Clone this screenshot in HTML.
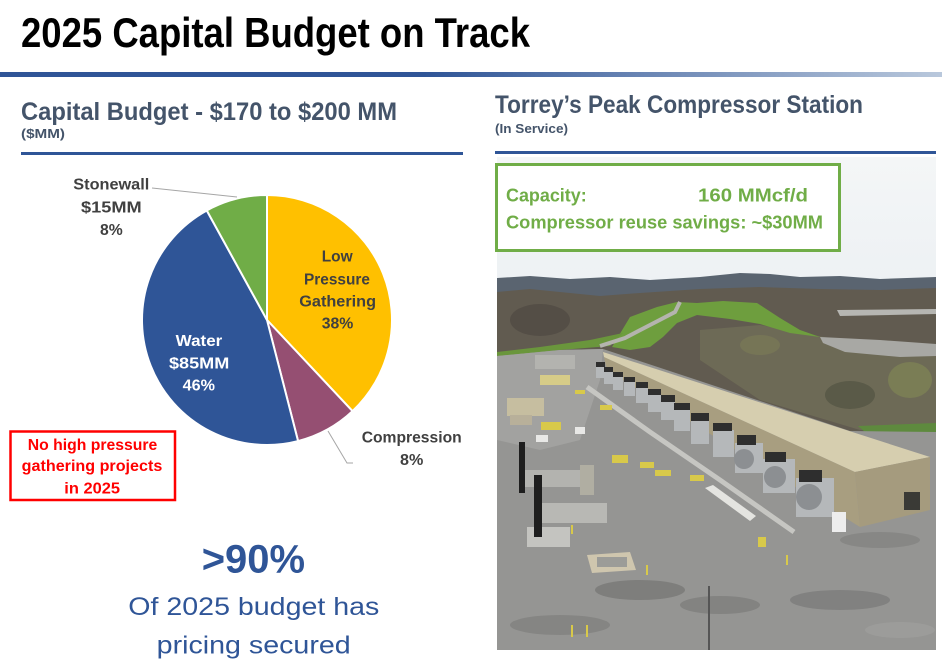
<!DOCTYPE html>
<html><head><meta charset="utf-8"><style>
html,body{margin:0;padding:0;background:#fff;}
svg{display:block;}
text{font-family:"Liberation Sans",sans-serif;}
</style></head><body>
<svg width="942" height="668" viewBox="0 0 942 668" xmlns="http://www.w3.org/2000/svg">
<defs>
<linearGradient id="bar" x1="0" y1="0" x2="1" y2="0">
<stop offset="0" stop-color="#2F5597"/><stop offset="0.45" stop-color="#2F5597"/><stop offset="0.75" stop-color="#7A93BC"/><stop offset="1" stop-color="#B9C8DC"/>
</linearGradient>
<linearGradient id="sky" x1="0" y1="0" x2="0" y2="1">
<stop offset="0" stop-color="#F4F6F7"/><stop offset="1" stop-color="#D9E2EA"/>
</linearGradient>
<clipPath id="ph"><rect x="497" y="157" width="439" height="493"/></clipPath>
</defs>
<rect width="942" height="668" fill="#fff"/>

<!-- Title -->
<text x="21" y="47" font-size="42" font-weight="bold" fill="#000" textLength="509" lengthAdjust="spacingAndGlyphs">2025 Capital Budget on Track</text>
<rect x="0" y="72" width="942" height="5" fill="url(#bar)"/>

<!-- Left heading -->
<text x="21" y="120" font-size="25" font-weight="bold" fill="#44546A" textLength="376" lengthAdjust="spacingAndGlyphs">Capital Budget - $170 to $200 MM</text>
<text x="21" y="138" font-size="13" font-weight="bold" fill="#44546A" textLength="44" lengthAdjust="spacingAndGlyphs">($MM)</text>
<rect x="21" y="152" width="442" height="3" fill="#2F5597"/>

<!-- Right heading -->
<text x="495" y="113" font-size="25" font-weight="bold" fill="#44546A" textLength="368" lengthAdjust="spacingAndGlyphs">Torrey’s Peak Compressor Station</text>
<text x="495" y="133" font-size="13" font-weight="bold" fill="#44546A" textLength="73" lengthAdjust="spacingAndGlyphs">(In Service)</text>
<rect x="495" y="151" width="441" height="3" fill="#2F5597"/>

<!-- Pie -->
<g stroke="#fff" stroke-width="2" stroke-linejoin="round">
<path d="M267,320 L267,195 A125,125 0 0 1 352.56,411.13 Z" fill="#FFC000"/>
<path d="M267,320 L352.56,411.13 A125,125 0 0 1 298.09,441.07 Z" fill="#954F72"/>
<path d="M267,320 L298.09,441.07 A125,125 0 0 1 206.78,210.46 Z" fill="#2F5597"/>
<path d="M267,320 L206.78,210.46 A125,125 0 0 1 267,195 Z" fill="#70AD47"/>
</g>
<polyline points="152,188 237,197" fill="none" stroke="#A6A6A6" stroke-width="1"/>
<polyline points="328,431 347,463 353,463" fill="none" stroke="#A6A6A6" stroke-width="1"/>

<g font-size="16" font-weight="bold" fill="#404040">
<text x="321.7" y="261.7" textLength="31" lengthAdjust="spacingAndGlyphs">Low</text>
<text x="304" y="284.5" textLength="66" lengthAdjust="spacingAndGlyphs">Pressure</text>
<text x="299.3" y="306.7" textLength="76.7" lengthAdjust="spacingAndGlyphs">Gathering</text>
<text x="321.7" y="328.5" textLength="31.6" lengthAdjust="spacingAndGlyphs">38%</text>
<text x="73.3" y="189.3" textLength="76" lengthAdjust="spacingAndGlyphs">Stonewall</text>
<text x="81" y="212.3" textLength="60.7" lengthAdjust="spacingAndGlyphs">$15MM</text>
<text x="100" y="235" textLength="22.7" lengthAdjust="spacingAndGlyphs">8%</text>
<text x="361.7" y="442.7" textLength="100" lengthAdjust="spacingAndGlyphs">Compression</text>
<text x="400" y="465" textLength="23.3" lengthAdjust="spacingAndGlyphs">8%</text>
</g>
<g font-size="16" font-weight="bold" fill="#fff">
<text x="175.7" y="346" textLength="46.6" lengthAdjust="spacingAndGlyphs">Water</text>
<text x="169" y="368.3" textLength="60.3" lengthAdjust="spacingAndGlyphs">$85MM</text>
<text x="182.7" y="390.7" textLength="32.3" lengthAdjust="spacingAndGlyphs">46%</text>
</g>

<!-- Red box -->
<rect x="10.5" y="431.5" width="164.5" height="68.5" fill="none" stroke="#FF0000" stroke-width="2.5"/>
<g font-size="16" font-weight="bold" fill="#FF0000">
<text x="27.7" y="450" textLength="129.6" lengthAdjust="spacingAndGlyphs">No high pressure</text>
<text x="21.7" y="471" textLength="140.6" lengthAdjust="spacingAndGlyphs">gathering projects</text>
<text x="64.3" y="493.3" textLength="55.7" lengthAdjust="spacingAndGlyphs">in 2025</text>
</g>

<!-- Bottom stat -->
<text x="201.7" y="572.7" font-size="40" font-weight="bold" fill="#2F5597" textLength="103.3" lengthAdjust="spacingAndGlyphs">&gt;90%</text>
<text x="128.3" y="615" font-size="25" fill="#2F5597" textLength="251" lengthAdjust="spacingAndGlyphs">Of 2025 budget has</text>
<text x="156.7" y="653.3" font-size="25" fill="#2F5597" textLength="194" lengthAdjust="spacingAndGlyphs">pricing secured</text>

<!-- Photo -->
<g clip-path="url(#ph)">
<rect x="497" y="157" width="439" height="493" fill="url(#sky)"/>
<path d="M497,278 L530,276 L570,279 L610,277 L650,280 L700,277 L740,273 L770,274 L800,277 L840,276 L880,279 L936,277 L936,320 L497,320 Z" fill="#5A6470"/>
<path d="M497,292 L530,289 L560,292 L600,296 L640,293 L700,289 L760,287 L820,289 L880,290 L936,288 L936,440 L497,440 Z" fill="#615B50"/>
<path d="M700,330 L760,325 L840,340 L936,350 L936,430 L860,430 L760,400 L700,360 Z" fill="#6D6A56"/>
<ellipse cx="910" cy="380" rx="22" ry="18" fill="#7A7D55"/>
<ellipse cx="760" cy="345" rx="20" ry="10" fill="#767556"/>
<ellipse cx="540" cy="320" rx="30" ry="16" fill="#544E46"/>
<ellipse cx="850" cy="395" rx="25" ry="14" fill="#5A5A48"/>
<path d="M837,310 L936,309 L936,314 L840,316 Z" fill="#B6B6B2"/>
<path d="M820,337 L880,340 L936,344 L936,356 L900,357 L845,352 L823,343 Z" fill="#A8A8A4"/>
<path d="M630,317 L657,307 L677,302 L697,303 L723,301 L757,303 L780,318 L800,330 L820,337 L790,333 L760,324 L730,319 L697,315 L677,323 L663,337 L650,347 L630,350 L612,347 Z" fill="#6E9E3E"/>
<path d="M497,352 L540,347 L590,340 L623,333 L610,346 L560,350 L497,357 Z" fill="#6A963C"/>
<path d="M858,426 L936,423 L936,433 L866,433 Z" fill="#5E8A3E"/>
<polyline points="680,302 675,312 650,325 625,338 600,346" fill="none" stroke="#B4B4AE" stroke-width="4"/>
<!-- ground pad -->
<path d="M497,356 L560,350 L603,349 L700,381 L850,431 L936,432 L936,650 L497,650 Z" fill="#959593"/>
<path d="M497,356 L560,350 L603,349 L600,380 L580,440 L540,450 L497,440 Z" fill="#A2A2A0"/>
<ellipse cx="640" cy="590" rx="45" ry="10" fill="#7E7E7C"/>
<ellipse cx="720" cy="605" rx="40" ry="9" fill="#838381"/>
<ellipse cx="840" cy="600" rx="50" ry="10" fill="#818180"/>
<ellipse cx="560" cy="625" rx="50" ry="10" fill="#858583"/>
<ellipse cx="880" cy="540" rx="40" ry="8" fill="#878785"/>
<ellipse cx="900" cy="630" rx="35" ry="8" fill="#9C9C9A"/>
<!-- building -->
<path d="M604,357 L855,472 L860,527 L607,370 Z" fill="#A89E80"/>
<path d="M603,352 L930,457 L855,472 L604,357 Z" fill="#D6CEAF"/>
<path d="M855,472 L930,457 L930,510 L860,527 Z" fill="#A59B7E"/>
<rect x="904" y="492" width="16" height="18" fill="#3A3A36"/>
<g fill="#B5B8BA">
<rect x="596" y="366" width="9" height="12"/><rect x="604" y="371" width="9" height="13"/>
<rect x="613" y="376" width="10" height="14"/><rect x="624" y="381" width="11" height="15"/>
<rect x="636" y="387" width="12" height="16"/><rect x="648" y="395" width="13" height="17"/>
<rect x="661" y="401" width="14" height="19"/><rect x="674" y="410" width="16" height="21"/>
<rect x="691" y="420" width="18" height="24"/><rect x="713" y="430" width="21" height="27"/>
<rect x="735" y="443" width="28" height="30"/><rect x="763" y="459" width="32" height="34"/>
<rect x="796" y="478" width="38" height="39"/>
</g>
<g fill="#2E2E2E">
<rect x="596" y="362" width="9" height="5"/><rect x="604" y="367" width="9" height="5"/>
<rect x="613" y="372" width="10" height="5"/><rect x="624" y="377" width="11" height="5"/>
<rect x="636" y="382" width="12" height="6"/><rect x="648" y="389" width="13" height="6"/>
<rect x="661" y="395" width="14" height="7"/><rect x="674" y="403" width="16" height="7"/>
<rect x="691" y="413" width="18" height="8"/><rect x="713" y="423" width="19" height="8"/>
<rect x="737" y="435" width="19" height="10"/><rect x="765" y="452" width="21" height="10"/>
<rect x="799" y="470" width="23" height="12"/>
</g>
<circle cx="744" cy="459" r="10" fill="#8C8F92"/><circle cx="775" cy="477" r="11" fill="#8C8F92"/><circle cx="809" cy="497" r="13" fill="#8C8F92"/>
<polyline points="587,387 650,432 720,480 794,532" fill="none" stroke="#C6C6C2" stroke-width="5"/>
<polygon points="705,488 713,485 756,516 750,521" fill="#E4E4E0"/>
<!-- left structures -->
<rect x="507" y="398" width="37" height="18" fill="#C6BEA0"/>
<rect x="510" y="415" width="22" height="10" fill="#B8B09A"/>
<rect x="535" y="355" width="40" height="14" fill="#B3B3AF"/>
<rect x="540" y="375" width="30" height="10" fill="#D6CC88"/>
<rect x="524" y="470" width="56" height="17" fill="#B3B3AF"/>
<rect x="540" y="503" width="67" height="20" fill="#B8B8B4"/>
<rect x="527" y="527" width="43" height="20" fill="#C4C4C0"/>
<rect x="519" y="442" width="6" height="51" fill="#1E1E1E"/>
<rect x="534" y="475" width="8" height="62" fill="#1E1E1E"/>
<polygon points="587,555 630,552 636,570 592,573" fill="#CFC6AE"/>
<rect x="597" y="557" width="30" height="10" fill="#9C9C98"/>
<rect x="580" y="465" width="14" height="30" fill="#B0AEA2"/>
<g fill="#D8C94A">
<rect x="612" y="455" width="16" height="8"/><rect x="640" y="462" width="14" height="6"/>
<rect x="655" y="470" width="16" height="6"/><rect x="690" y="475" width="14" height="6"/>
<rect x="600" y="405" width="12" height="5"/><rect x="575" y="390" width="10" height="4"/>
<rect x="541" y="422" width="20" height="8"/>
<rect x="758" y="537" width="8" height="10"/>
<rect x="571" y="525" width="2" height="9"/><rect x="646" y="565" width="2" height="10"/>
<rect x="571" y="625" width="2" height="12"/><rect x="586" y="625" width="2" height="12"/>
<rect x="786" y="555" width="2" height="10"/>
</g>
<rect x="536" y="435" width="12" height="7" fill="#E8E8E6"/>
<rect x="575" y="427" width="10" height="7" fill="#E8E8E6"/>
<rect x="708" y="586" width="2" height="64" fill="#555"/>
<rect x="832" y="512" width="14" height="20" fill="#EDEDED"/>
</g>

<!-- Green box -->
<rect x="496.5" y="164.5" width="343" height="86" fill="#FFFFFF" stroke="#70AD47" stroke-width="3"/>
<g font-size="18" font-weight="bold" fill="#70AD47">
<text x="506" y="201.7" textLength="80.7" lengthAdjust="spacingAndGlyphs">Capacity:</text>
<text x="698" y="201.7" textLength="110" lengthAdjust="spacingAndGlyphs">160 MMcf/d</text>
<text x="506" y="228.3" textLength="317" lengthAdjust="spacingAndGlyphs">Compressor reuse savings: ~$30MM</text>
</g>
</svg>
</body></html>
